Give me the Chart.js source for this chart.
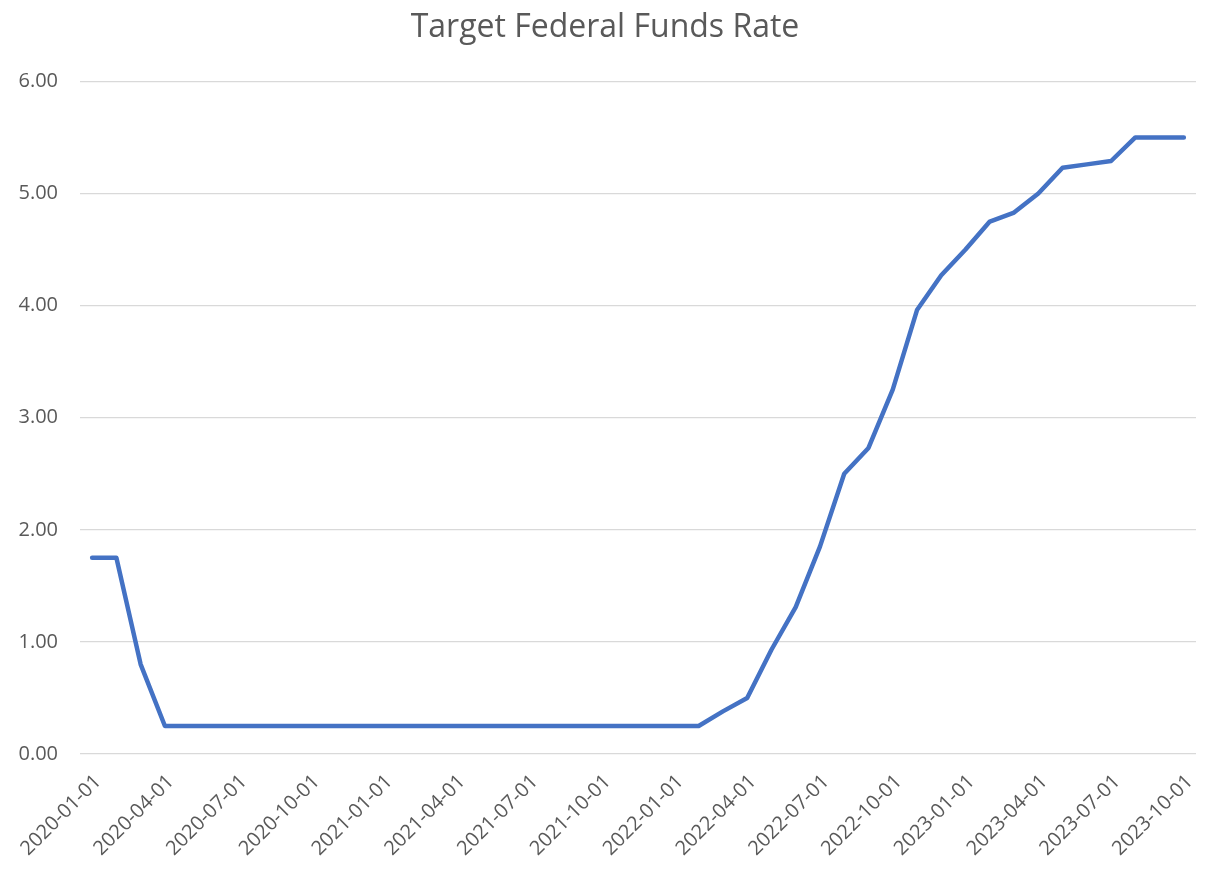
<!DOCTYPE html>
<html>
<head>
<meta charset="utf-8">
<title>Target Federal Funds Rate</title>
<script src="https://cdn.jsdelivr.net/npm/chart.js@4.4.1/dist/chart.umd.min.js"></script>
<style>
  html, body { margin: 0; padding: 0; background: #fff; }
  canvas { display: block; }
</style>
</head>
<body>
<canvas id="rateChart" width="1210" height="874"></canvas>
<script>
// Target Federal Funds Rate - monthly, Excel-style line chart

const months = [
    '2020-01-01', '2020-02-01', '2020-03-01', '2020-04-01', '2020-05-01', '2020-06-01',
    '2020-07-01', '2020-08-01', '2020-09-01', '2020-10-01', '2020-11-01', '2020-12-01',
    '2021-01-01', '2021-02-01', '2021-03-01', '2021-04-01', '2021-05-01', '2021-06-01',
    '2021-07-01', '2021-08-01', '2021-09-01', '2021-10-01', '2021-11-01', '2021-12-01',
    '2022-01-01', '2022-02-01', '2022-03-01', '2022-04-01', '2022-05-01', '2022-06-01',
    '2022-07-01', '2022-08-01', '2022-09-01', '2022-10-01', '2022-11-01', '2022-12-01',
    '2023-01-01', '2023-02-01', '2023-03-01', '2023-04-01', '2023-05-01', '2023-06-01',
    '2023-07-01', '2023-08-01', '2023-09-01', '2023-10-01'
];

const rates = [
    1.75, 1.75, 0.80, 0.25, 0.25, 0.25,
    0.25, 0.25, 0.25, 0.25, 0.25, 0.25,
    0.25, 0.25, 0.25, 0.25, 0.25, 0.25,
    0.25, 0.25, 0.25, 0.25, 0.25, 0.25,
    0.25, 0.25, 0.38, 0.50, 0.93, 1.31,
    1.85, 2.50, 2.73, 3.25, 3.96, 4.27,
    4.50, 4.75, 4.83, 5.00, 5.23, 5.26,
    5.29, 5.50, 5.50, 5.50
];

const yTicks = [0, 1, 2, 3, 4, 5, 6];

const textColor = '#595959';
const font = '"Open Sans", "Noto Sans", sans-serif';

const ctx = document.getElementById('rateChart').getContext('2d');
new Chart(ctx, {
    type: 'line',
    data: {
        labels: months,
        datasets: [{
            label: 'Target Federal Funds Rate',
            data: rates,
            borderColor: '#4472C4',
            backgroundColor: '#4472C4',
            borderWidth: 4.5,
            borderCapStyle: 'round',
            borderJoinStyle: 'round',
            pointRadius: 0,
            tension: 0,
            fill: false
        }]
    },
    options: {
        responsive: false,
        animation: false,
        devicePixelRatio: 1,
        layout: { padding: { left: 14, right: 14, top: 0, bottom: 0 } },
        plugins: {
            legend: { display: false },
            tooltip: { enabled: false },
            title: {
                display: true,
                text: 'Target Federal Funds Rate',
                color: textColor,
                font: { family: font, size: 32, weight: 'normal' },
                padding: { top: 9, bottom: 34 }
            }
        },
        scales: {
            x: {
                type: 'category',
                offset: true,
                grid: { display: false, drawTicks: false },
                border: { display: false },
                ticks: {
                    autoSkip: false,
                    maxRotation: 45,
                    minRotation: 45,
                    padding: 16,
                    labelOffset: 6,
                    color: textColor,
                    font: { family: font, size: 20 },
                    callback: function (v, i) { return i % 3 === 0 ? months[i] : ''; }
                },
                afterFit: function (s) {
                    s.height = 120;
                    s.paddingLeft = 0;
                    s.paddingRight = 0;
                }
            },
            y: {
                min: 0,
                max: 6,
                afterBuildTicks: function (s) { s.ticks = yTicks.map(v => ({ value: v })); },
                grid: { color: '#d9d9d9', lineWidth: 1.3, drawTicks: false },
                border: { display: false },
                ticks: {
                    padding: 22,
                    color: textColor,
                    font: { family: font, size: 20 },
                    callback: v => v.toFixed(2)
                },
                afterFit: function (s) { s.width = 66; }
            }
        }
    }
});
</script>
</body>
</html>
